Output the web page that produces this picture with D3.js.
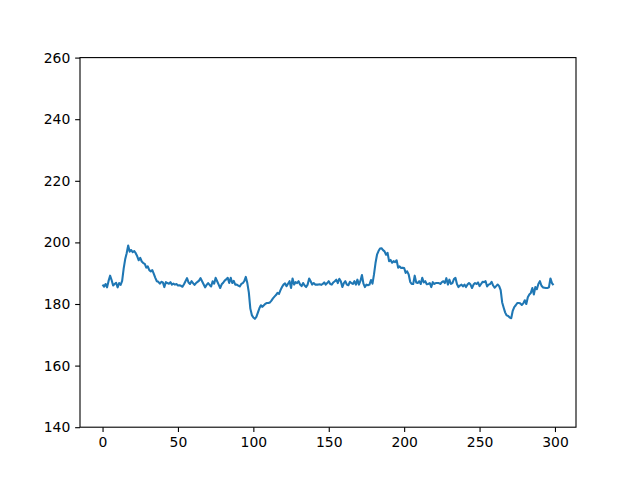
<!DOCTYPE html>
<html>
<head>
<meta charset="utf-8">
<script src="https://cdn.jsdelivr.net/npm/d3@7"></script>
<style>
  body { margin: 0; background: #fff; }
  svg { display: block; font-family: "DejaVu Sans", sans-serif; }
</style>
</head>
<body>
<svg id="chart"></svg>
<script>
// readings, index 0..299, split in three blocks
var values0 = [186.3,185.6,186.5,185.4,187.5,189.2,187.8,186.0,186.5,186.9,
  185.4,186.8,186.2,187.5,191.5,194.5,196.5,199.0,197.0,197.5,
  196.8,197.2,196.5,195.5,194.2,195.0,193.8,193.3,193.0,191.8,
  192.2,191.0,190.6,191.0,189.8,188.5,187.4,187.2,186.6,187.2,
  187.0,185.5,187.1,186.8,186.6,187.1,186.3,186.6,186.3,186.5,
  186.0,186.1,185.9,185.6,186.4,187.4,188.4,187.0,186.5,187.4,
  186.8,186.2,186.8,187.2,187.6,188.4,187.4,186.4,185.4,186.2,
  186.8,186.2,185.7,187.4,186.6,188.5,187.4,186.3,185.2,186.4,
  186.9,187.6,188.0,188.5,186.8,188.5,186.8,187.5,186.3,186.3,
  186.0,185.7,186.5,186.8,187.4,188.8,186.8,183.8,178.5,176.4];
var values1 = [175.6,175.2,175.8,177.2,178.6,179.6,179.1,179.6,180.1,180.3,
  180.3,180.5,181.1,181.8,182.4,182.9,183.6,183.3,184.5,185.5,
  186.3,186.7,185.8,186.6,187.4,185.2,188.3,186.3,187.1,186.8,
  187.4,186.3,185.8,186.8,186.0,185.5,186.3,188.3,187.4,186.3,
  186.8,186.3,186.3,186.3,186.4,186.2,186.5,187.0,186.3,186.8,
  187.4,186.5,186.3,187.0,187.4,187.9,186.8,188.2,187.4,185.5,
  186.8,187.4,186.3,186.1,187.2,186.8,186.5,187.4,186.3,187.9,
  186.3,187.5,189.4,186.6,185.5,186.3,186.1,186.3,187.8,186.6,
  189.6,193.3,196.0,197.2,198.0,198.1,197.5,197.1,196.0,196.6,
  193.9,194.3,193.4,193.9,193.6,194.2,191.8,192.2,191.7,191.8];
var values2 = [191.7,190.1,190.6,189.6,187.2,186.5,186.5,189.2,187.0,186.8,
  187.4,186.5,188.5,187.0,187.4,186.4,186.5,186.8,185.5,187.1,
  186.5,186.8,186.8,186.8,186.5,187.1,187.4,186.8,188.4,186.3,
  187.9,186.5,186.8,188.1,188.5,186.5,185.5,186.0,186.3,185.7,
  186.3,185.5,186.3,186.8,186.3,185.2,186.3,186.8,186.5,187.0,
  185.8,186.5,187.2,187.1,187.4,185.7,186.3,186.5,187.2,186.0,
  185.3,185.8,186.3,185.8,184.5,180.5,178.8,177.2,176.3,176.1,
  175.6,175.4,177.8,179.0,179.6,180.3,180.3,180.2,179.7,180.2,
  181.2,180.0,182.2,183.1,183.6,185.2,183.1,185.5,184.8,186.5,
  187.4,186.0,185.4,185.3,185.2,185.2,185.4,188.3,186.8,186.1];
var values = values0.concat(values1, values2);

var xTicks = [0, 50, 100, 150, 200, 250, 300];
var yTicks = [140, 160, 180, 200, 220, 240, 260];

// figure geometry (matplotlib default subplot)
const figWidth = 640, figHeight = 480;
var margin = {top: 57.6, right: 64, bottom: 52.8, left: 80},
    width = figWidth - margin.left - margin.right,
    height = figHeight - margin.top - margin.bottom;

var svg = d3.select("#chart")
    .attr("width", figWidth)
    .attr("height", figHeight)
  .append("g")
    .attr("transform", "translate(" + margin.left + "," + margin.top + ")");

var n = values.length;
var pad = 0.05 * (n - 1);
var x = d3.scaleLinear()
    .domain([-pad, n - 1 + pad])
    .range([0, width]);

var y = d3.scaleLinear()
    .domain([140, 260])
    .range([height, 0]);

var tickLen = 4.86, fontPx = 13.9;

var xAxis = svg.append("g")
    .attr("transform", "translate(0," + height + ")")
    .call(d3.axisBottom(x).tickValues(xTicks).tickSize(tickLen).tickPadding(4.86).tickFormat(d3.format("d")));
var yAxis = svg.append("g")
    .call(d3.axisLeft(y).tickValues(yTicks).tickSize(tickLen).tickPadding(4.86).tickFormat(d3.format("d")));

[xAxis, yAxis].forEach(function(a) {
  a.select(".domain").remove();
  a.selectAll(".tick line").attr("stroke", "#000").attr("stroke-width", 1.1);
  a.selectAll(".tick text")
    .attr("fill", "#000")
    .style("font-size", fontPx + "px")
    .style("font-family", "DejaVu Sans, sans-serif");
});

// the line
var line = d3.line()
    .x(function(d, i) { return x(i); })
    .y(function(d) { return y(d); });

svg.append("path")
    .datum(values)
    .attr("fill", "none")
    .attr("stroke", "#1f77b4")
    .attr("stroke-width", 2.08)
    .attr("stroke-linejoin", "round")
    .attr("d", line);

// frame
svg.append("rect")
    .attr("width", width)
    .attr("height", height)
    .attr("fill", "none")
    .attr("stroke", "#000")
    .attr("stroke-width", 1.1);
</script>
</body>
</html>
